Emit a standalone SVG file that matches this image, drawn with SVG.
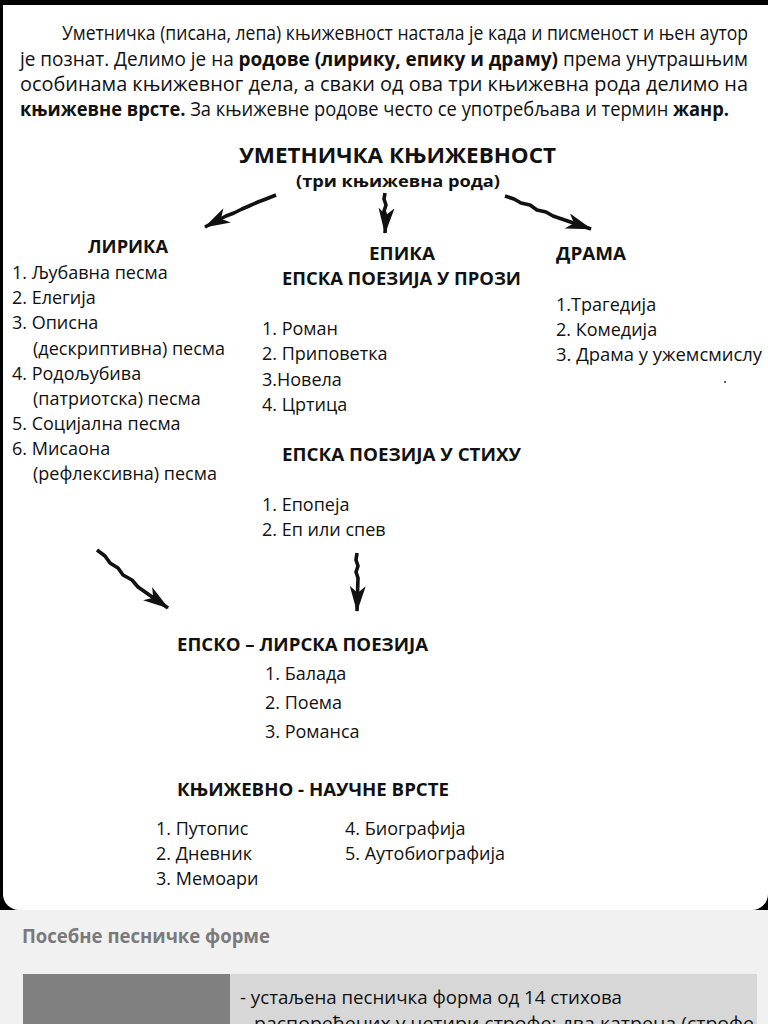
<svg xmlns="http://www.w3.org/2000/svg" width="768" height="1024" viewBox="0 0 768 1024">
<style>
text{font-family:"Open Sans","Noto Sans","Liberation Sans",sans-serif;fill:#111}
.p{font-size:20px}
.b{font-weight:bold}
.h{font-size:17.5px;font-weight:bold}
.t{font-size:18px}
.arr{fill:none;stroke:#111;stroke-width:3.6;stroke-linejoin:round;marker-end:url(#ah)}
</style>
<defs>
<marker id="ah" viewBox="0 0 26 16" refX="25" refY="8" markerWidth="26" markerHeight="16" markerUnits="userSpaceOnUse" orient="auto">
<path d="M0,0 L26,8 L0,16 L7,8 z" fill="#111"/>
</marker>
</defs>
<rect x="0" y="0" width="768" height="1024" fill="#000"/>
<rect x="3" y="5" width="765" height="905" rx="16" fill="#fff"/>
<rect x="3" y="5" width="765" height="30" fill="#fff"/>
<rect x="0" y="910" width="768" height="114" fill="#f1f1f1"/>

<g id="intro">
<text class="p" x="62" y="40" textLength="686" lengthAdjust="spacingAndGlyphs">Уметничка (писана, лепа) књижевност настала је када и писменост и њен аутор</text>
<text class="p" x="20" y="66" textLength="728" lengthAdjust="spacingAndGlyphs">је познат. Делимо је на <tspan class="b">родове (лирику, епику и драму)</tspan> према унутрашњим</text>
<text class="p" x="20" y="91" textLength="728" lengthAdjust="spacingAndGlyphs">особинама књижевног дела, а сваки од ова три књижевна рода делимо на</text>
<text class="p" x="20" y="116" textLength="709" lengthAdjust="spacingAndGlyphs"><tspan class="b">књижевне врсте.</tspan> За књижевне родове често се употребљава и термин <tspan class="b">жанр.</tspan></text>
</g>

<g id="root">
<text x="239" y="163" font-size="21" font-weight="bold" textLength="317" lengthAdjust="spacingAndGlyphs">УМЕТНИЧКА КЊИЖЕВНОСТ</text>
<text x="296" y="187" font-size="16" font-weight="bold" textLength="204" lengthAdjust="spacingAndGlyphs">(три књижевна рода)</text>
</g>

<g id="lirika">
<text class="h" x="88" y="253" textLength="80" lengthAdjust="spacingAndGlyphs">ЛИРИКА</text>
<text class="t" x="12" y="279">1. Љубавна песма</text>
<text class="t" x="12" y="304">2. Елегија</text>
<text class="t" x="12" y="329">3. Описна</text>
<text class="t" x="33" y="355">(дескриптивна) песма</text>
<text class="t" x="12" y="380">4. Родољубива</text>
<text class="t" x="33" y="405">(патриотска) песма</text>
<text class="t" x="12" y="430">5. Социјална песма</text>
<text class="t" x="12" y="455">6. Мисаона</text>
<text class="t" x="33" y="480">(рефлексивна) песма</text>
</g>

<g id="epika">
<text class="h" x="369" y="260" textLength="66" lengthAdjust="spacingAndGlyphs">ЕПИКА</text>
<text class="h" x="282" y="285" textLength="239" lengthAdjust="spacingAndGlyphs">ЕПСКА ПОЕЗИЈА У ПРОЗИ</text>
<text class="t" x="262" y="335">1. Роман</text>
<text class="t" x="262" y="360">2. Приповетка</text>
<text class="t" x="262" y="386">3.Новела</text>
<text class="t" x="262" y="411">4. Цртица</text>
<text class="h" x="282" y="461" textLength="239" lengthAdjust="spacingAndGlyphs">ЕПСКА ПОЕЗИЈА У СТИХУ</text>
<text class="t" x="262" y="511">1. Епопеја</text>
<text class="t" x="262" y="536">2. Еп или спев</text>
</g>

<g id="drama">
<text class="h" x="556" y="260" textLength="70" lengthAdjust="spacingAndGlyphs">ДРАМА</text>
<text class="t" x="556" y="311">1.Трагедија</text>
<text class="t" x="556" y="336">2. Комедија</text>
<text class="t" x="556" y="361" textLength="206" lengthAdjust="spacingAndGlyphs">3. Драма у ужемсмислу</text>
<circle cx="725" cy="382" r="1" fill="#333"/>
</g>

<g id="epsko-lirska">
<text class="h" x="177" y="651" textLength="251" lengthAdjust="spacingAndGlyphs">ЕПСКО – ЛИРСКА ПОЕЗИЈА</text>
<text class="t" x="265" y="680">1. Балада</text>
<text class="t" x="265" y="709">2. Поема</text>
<text class="t" x="265" y="738">3. Романса</text>
</g>

<g id="naucne">
<text class="h" x="177" y="796" textLength="272" lengthAdjust="spacingAndGlyphs">КЊИЖЕВНО - НАУЧНЕ ВРСТЕ</text>
<text class="t" x="156" y="835">1. Путопис</text>
<text class="t" x="156" y="860">2. Дневник</text>
<text class="t" x="156" y="885">3. Мемоари</text>
<text class="t" x="345" y="835">4. Биографија</text>
<text class="t" x="345" y="860">5. Аутобиографија</text>
</g>

<g id="connectors">
<path class="arr" d="M276,195 L266,199 L258,202 L249,206 L242,209 L234,213 L226,216 L205,227"/>
<path class="arr" d="M385,193 L384,199 L386,205 L384,211 L386,216 L385,233"/>
<path class="arr" d="M505,196 L514,199 L521,203 L530,205 L537,210 L546,212 L553,216 L591,229"/>
<path class="arr" d="M97,550 L105,556 L110,563 L118,568 L123,575 L132,580 L138,587 L168,608"/>
<path class="arr" d="M357,553 L356,560 L358,566 L356,572 L358,578 L357,611"/>
</g>

<g id="forms">
<text x="22" y="943" font-size="19" font-weight="bold" style="fill:#7a7a7a" textLength="248" lengthAdjust="spacingAndGlyphs">Посебне песничке форме</text>
<rect x="23" y="974" width="207" height="50" fill="#808080"/>
<rect x="230" y="974" width="527" height="50" fill="#d7d7d7"/>
<text x="240" y="1004" font-size="19" textLength="382" lengthAdjust="spacingAndGlyphs">- устаљена песничка форма од 14 стихова</text>
<text x="254" y="1030" font-size="19" textLength="500" lengthAdjust="spacingAndGlyphs">распоређених у четири строфе: два катрена (строфе</text>
</g>
</svg>
